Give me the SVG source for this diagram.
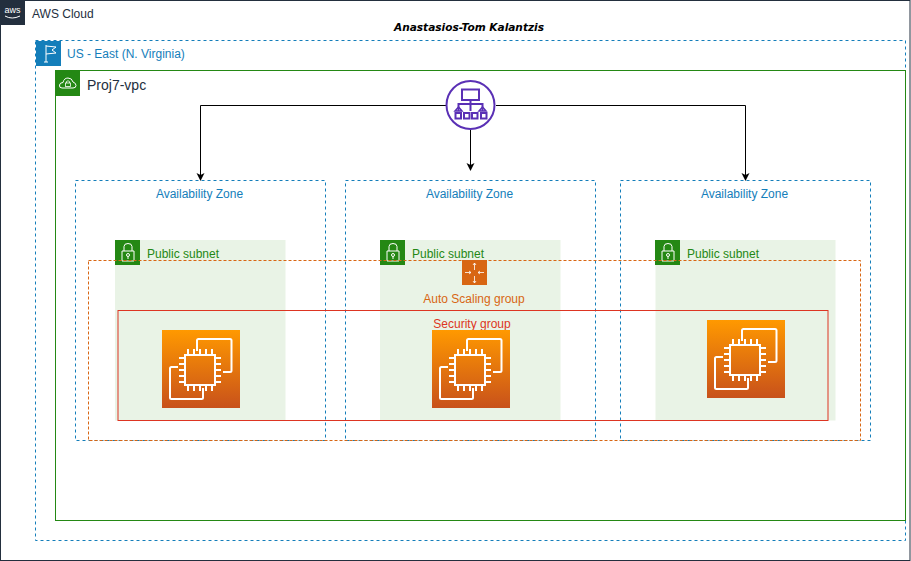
<svg xmlns="http://www.w3.org/2000/svg" width="911" height="561" viewBox="0 0 911 561">
<style>
text{font-family:"Liberation Sans",Arial,sans-serif;font-size:12px}
.az{fill:none;stroke:#147EBA;stroke-dasharray:3 3}
.azt{fill:#147EBA;text-anchor:middle}
.subnet{fill:#E9F3E6}
.gicon{fill:#248814}
.glyph{fill:none;stroke:#fff;stroke-width:1}
.gt{fill:#248814}
.chip{fill:none;stroke:#fff;stroke-width:2}
</style>
<defs>
<linearGradient id="ec2g" x1="0" y1="1" x2="0" y2="0"><stop offset="0" stop-color="#C8511B"/><stop offset="1" stop-color="#FF9900"/></linearGradient>
<marker id="arr" markerUnits="userSpaceOnUse" markerWidth="10" markerHeight="10" refX="7" refY="4" orient="auto"><path d="M0 0L8 4L0 8L2 4Z" fill="#000"/></marker>
<g id="lock"><rect class="gicon" width="25" height="25"/><path class="glyph" d="M7 21V11H19V21ZM9 11V6.500Q9 3.500 13 3.500Q17 3.500 17 6.500V11"/><circle class="glyph" cx="13" cy="15" r="1.500"/><path class="glyph" d="M13 16.500V19"/></g>
<g id="ec2">
<rect width="78" height="78" fill="url(#ec2g)"/>
<path class="chip" d="M35 21V10.500Q35 9 36.500 9H68Q69.500 9 69.500 10.500V40.500Q69.500 42 68 42H61M41 58V67.500Q41 69 39.500 69H9.500Q8 69 8 67.500V38.500Q8 37 9.500 37H16"/>
<rect class="chip" x="23" y="25" width="30" height="30"/>
<path class="chip" d="M26 19V25M32 19V25M38 19V25M44 19V25M50 19V25M26 55V61M32 55V61M38 55V61M44 55V61M50 55V61M17 28H23M17 34H23M17 40H23M17 46H23M17 52H23M53 28H59M53 34H59M53 40H59M53 46H59M53 52H59"/>
</g>
</defs>
<rect width="911" height="561" fill="#fff"/>
<g id="aws-cloud">
<rect x="0.500" y="0.500" width="909.500" height="560" fill="none" stroke="#232F3E"/>
<rect width="25" height="25" fill="#232F3E"/>
<text x="12.500" y="13" text-anchor="middle" fill="#fff" style="font-size:9px">aws</text>
<path d="M5 16Q12 20 20 16" fill="none" stroke="#fff"/>
<text x="32" y="18" fill="#232F3E">AWS Cloud</text>
</g>
<text x="469" y="31" text-anchor="middle" textLength="150" lengthAdjust="spacingAndGlyphs" style="font-family:'DejaVu Sans',sans-serif;font-size:11px;font-weight:bold;font-style:italic">Anastasios-Tom Kalantzis</text>
<g id="region">
<rect x="35.500" y="40.500" width="870" height="500" fill="none" stroke="#147EBA" stroke-dasharray="3 3"/>
<rect x="36" y="41" width="25" height="25" fill="#147EBA"/>
<path d="M44 62H48M46 62V45M46 46L56 47L52 50L56 53L46 54" fill="none" stroke="#fff"/>
<text x="67" y="58" fill="#147EBA">US - East (N. Virginia)</text>
</g>
<g id="vpc">
<rect x="55.500" y="70.500" width="850" height="450" fill="none" stroke="#248814"/>
<rect x="55" y="71" width="25" height="25" fill="#248814"/>
<path d="M62 88Q59 88 59.500 85Q60 82.500 63 82.500Q64 78 68 78Q72 78 73 82Q76 83 76 85.500Q76 88 73 88Z" fill="none" stroke="#fff"/>
<rect x="65.500" y="83" width="5" height="3.500" fill="none" stroke="#fff" stroke-width="0.800"/>
<path d="M66.500 83V81.500Q68 80 69.500 81.500V83" fill="none" stroke="#fff" stroke-width="0.800"/>
<text x="87" y="90" fill="#232F3E" style="font-size:14px">Proj7-vpc</text>
</g>
<g id="az-1"><rect class="az" x="75.500" y="180.500" width="250" height="260"/><text class="azt" x="199.500" y="198">Availability Zone</text></g>
<g id="az-2"><rect class="az" x="345.500" y="180.500" width="250" height="260"/><text class="azt" x="469.500" y="198">Availability Zone</text></g>
<g id="az-3"><rect class="az" x="620.500" y="180.500" width="250" height="260"/><text class="azt" x="744.500" y="198">Availability Zone</text></g>
<g id="subnet-1"><rect class="subnet" x="115" y="240" width="170.500" height="180.500"/><use href="#lock" x="115" y="240"/><text class="gt" x="147" y="258">Public subnet</text></g>
<g id="subnet-2"><rect class="subnet" x="380" y="240" width="180.500" height="180.500"/><use href="#lock" x="380" y="240"/><text class="gt" x="412" y="258">Public subnet</text></g>
<g id="subnet-3"><rect class="subnet" x="655.500" y="240" width="180" height="180.500"/><use href="#lock" x="655" y="240"/><text class="gt" x="687" y="258">Public subnet</text></g>
<g id="asg">
<rect x="88.500" y="260.500" width="772" height="180" fill="none" stroke="#D86613" stroke-dasharray="3 2"/>
<rect x="462" y="260" width="25" height="25" fill="#D86613"/>
<path d="M474.500 263V270M474.500 276V283M465 272.500H471M478 272.500H484M473 265L474.500 263L476 265M473 281L474.500 283L476 281M469 271L471 272.500L469 274M480 271L478 272.500L480 274" fill="none" stroke="#fff" stroke-width="0.800"/>
<text x="474" y="303" text-anchor="middle" fill="#D86613">Auto Scaling group</text>
</g>
<g id="security-group">
<rect x="118" y="310.500" width="710" height="110" fill="none" stroke="#DD3522"/>
<text x="472" y="328" text-anchor="middle" fill="#DD3522">Security group</text>
</g>
<use id="ec2-1" href="#ec2" x="162" y="330"/>
<use id="ec2-2" href="#ec2" x="432" y="330"/>
<use id="ec2-3" href="#ec2" x="707" y="320"/>
<g id="connectors" fill="none" stroke="#000">
<path d="M446 105.500H200.500V180" marker-end="url(#arr)"/>
<path d="M470.500 130V170" marker-end="url(#arr)"/>
<path d="M496 105.500H745.500V180" marker-end="url(#arr)"/>
</g>
<g id="load-balancer" fill="none" stroke="#5A30B5" stroke-width="2">
<circle cx="470.500" cy="105" r="24" fill="#fff"/>
<rect x="462" y="89.500" width="17" height="10.500"/>
<path d="M470.500 100V104M458.500 111V104H482.500V111M470.500 104V111"/>
<path d="M458.500 107L455 111H462ZM482.500 107L479 111H486Z" stroke-width="1.500"/>
<rect x="455.500" y="113" width="5.500" height="5.500"/><rect x="464" y="113" width="5.500" height="5.500"/><rect x="472" y="113" width="5.500" height="5.500"/><rect x="481" y="113" width="5.500" height="5.500"/>
</g>
</svg>
